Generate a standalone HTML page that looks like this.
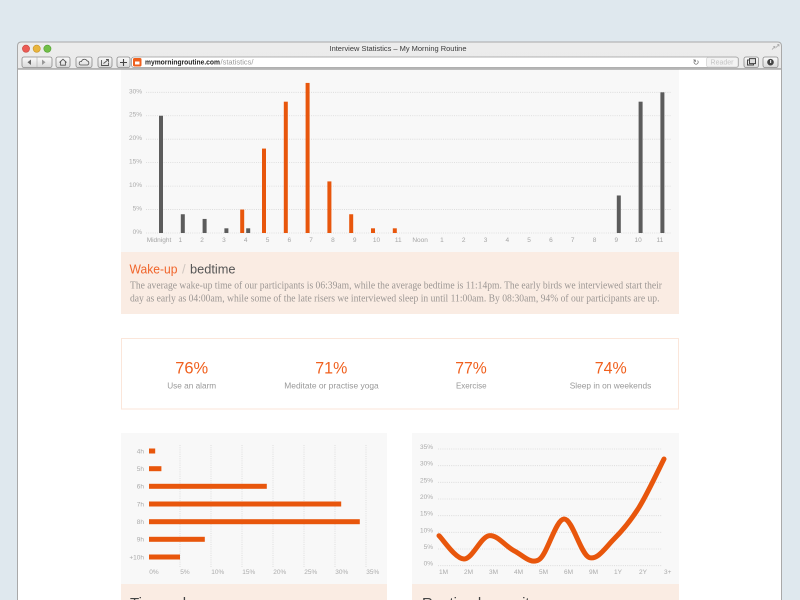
<!DOCTYPE html>
<html><head><meta charset="utf-8"><style>
html,body{margin:0;padding:0;background:#dfe8ee;}
svg{display:block;font-family:"Liberation Sans",sans-serif;}
</style></head><body>
<svg width="800" height="600" viewBox="0 0 800 600" xmlns="http://www.w3.org/2000/svg">
<defs>
<linearGradient id="tb" x1="0" y1="0" x2="0" y2="1"><stop offset="0" stop-color="#ececec"/><stop offset="1" stop-color="#cdcdcd"/></linearGradient>
<linearGradient id="btn" x1="0" y1="0" x2="0" y2="1"><stop offset="0" stop-color="#fbfbfb"/><stop offset="1" stop-color="#d9d9d9"/></linearGradient>
</defs>
<rect width="800" height="600" fill="#dfe8ee"/>
<!-- window -->
<path d="M17.5,604 V46 Q17.5,42 21.5,42 H777.5 Q781.5,42 781.5,46 V604 Z" fill="url(#tb)" stroke="#a9a9a9"/>
<rect x="18" y="69.5" width="763" height="531" fill="#ffffff"/>
<line x1="18" y1="69" x2="781" y2="69" stroke="#808080"/>
<circle cx="26" cy="48.7" r="3.6" fill="#ec5c55" stroke="#c9463f" stroke-width="0.6"/>
<circle cx="36.7" cy="48.7" r="3.6" fill="#e9b53e" stroke="#c79327" stroke-width="0.6"/>
<circle cx="47.4" cy="48.7" r="3.6" fill="#72bf48" stroke="#50a030" stroke-width="0.6"/>
<text x="398" y="51" font-size="7.5" fill="#3a3a3a" text-anchor="middle" textLength="137" lengthAdjust="spacingAndGlyphs">Interview Statistics – My Morning Routine</text>
<g stroke="#8a8a8a" stroke-width="0.8" fill="url(#btn)">
<rect x="22" y="57" width="30" height="10.5" rx="2"/>
<rect x="56" y="57" width="14" height="10.5" rx="2"/>
<rect x="76" y="57" width="16" height="10.5" rx="2"/>
<rect x="98" y="57" width="14" height="10.5" rx="2"/>
<rect x="117" y="57" width="13" height="10.5" rx="2"/>
<rect x="744" y="57" width="14.5" height="10.5" rx="2"/>
<rect x="763" y="57" width="15" height="10.5" rx="2"/>
</g>
<line x1="37" y1="57.5" x2="37" y2="67" stroke="#aaa" stroke-width="0.6"/>
<path d="M31,59.5 L27.5,62.2 L31,65 Z" fill="#666"/>
<path d="M42,59.5 L45.5,62.2 L42,65 Z" fill="#999"/>
<path d="M59.5,62.5 L63,59.2 L66.5,62.5 M60.6,61.8 V65.2 H65.4 V61.8" fill="none" stroke="#555" stroke-width="0.9"/>
<path d="M80.5,65 H87.5 A2.2,2.2 0 0 0 87,60.8 A3,3 0 0 0 81.5,61.5 A1.8,1.8 0 0 0 80.5,65 Z" fill="none" stroke="#555" stroke-width="0.8"/>
<path d="M101.5,60 V65.5 H108.5 V62.5 M103.5,63.5 L108.5,59.5 M106,59.5 H108.5 V62" fill="none" stroke="#555" stroke-width="0.9"/>
<path d="M123.5,59 V66 M120,62.5 H127" stroke="#444" stroke-width="1.1"/>
<rect x="131.5" y="57" width="607" height="10.5" rx="2.5" fill="#fff" stroke="#9a9a9a" stroke-width="0.8"/>
<rect x="133" y="58" width="8.5" height="8.5" rx="1.5" fill="#ee5f1c"/>
<rect x="135" y="61.5" width="4.5" height="3" fill="#fff"/>
<text x="145" y="64.5" font-size="7.5" fill="#222" font-weight="bold" textLength="75" lengthAdjust="spacingAndGlyphs">mymorningroutine.com</text>
<text x="220.5" y="64.5" font-size="7.5" fill="#999" textLength="33" lengthAdjust="spacingAndGlyphs">/statistics/</text>
<text x="696" y="65" font-size="8" fill="#666" text-anchor="middle">↻</text>
<rect x="706.5" y="57.5" width="31.5" height="9.5" rx="2" fill="#f3f3f3" stroke="#c9c9c9" stroke-width="0.6"/>
<text x="722" y="64.6" font-size="7" fill="#c4c4c4" text-anchor="middle">Reader</text>
<rect x="747.5" y="60" width="6" height="5" fill="none" stroke="#444" stroke-width="1"/>
<rect x="749.5" y="58.6" width="6" height="5" fill="#ddd" stroke="#444" stroke-width="1"/>
<circle cx="770.5" cy="62.2" r="3.3" fill="#444"/>
<rect x="770" y="60" width="1.2" height="3" fill="#ddd"/>
<path d="M772,49.5 L775,46.5 M773,46.5 H775 V48.5 M776,47.5 L779,44.5 M777,44.5 H779 V46.5" stroke="#999" stroke-width="0.6" fill="none"/>

<!-- top chart panel -->
<rect x="121" y="69.5" width="558" height="182.5" fill="#f8f8f8"/>
<g stroke="#d8d8d8" stroke-width="0.8" stroke-dasharray="1,1.2">
<line x1="146" y1="233" x2="671" y2="233"/>
<line x1="146" y1="209.55" x2="671" y2="209.55"/>
<line x1="146" y1="186.1" x2="671" y2="186.1"/>
<line x1="146" y1="162.65" x2="671" y2="162.65"/>
<line x1="146" y1="139.2" x2="671" y2="139.2"/>
<line x1="146" y1="115.75" x2="671" y2="115.75"/>
<line x1="146" y1="92.3" x2="671" y2="92.3"/>
</g>
<g font-size="6.5" fill="#aaa" text-anchor="end">
<text x="142" y="234">0%</text>
<text x="142" y="210.5">5%</text>
<text x="142" y="187">10%</text>
<text x="142" y="163.6">15%</text>
<text x="142" y="140.2">20%</text>
<text x="142" y="116.7">25%</text>
<text x="142" y="93.3">30%</text>
</g>
<g fill="#5c5c5c">
<rect x="159" y="115.75" width="4" height="117.25"/>
<rect x="180.8" y="214.24" width="4" height="18.76"/>
<rect x="202.6" y="218.93" width="4" height="14.07"/>
<rect x="224.4" y="228.31" width="4" height="4.69"/>
<rect x="246.2" y="228.31" width="4" height="4.69"/>
<rect x="616.8" y="195.48" width="4" height="37.52"/>
<rect x="638.6" y="101.68" width="4" height="131.32"/>
<rect x="660.4" y="92.3" width="4" height="140.7"/>
</g>
<g fill="#e8560c">
<rect x="240.2" y="209.55" width="4" height="23.45"/>
<rect x="262" y="148.58" width="4" height="84.42"/>
<rect x="283.8" y="101.68" width="4" height="131.32"/>
<rect x="305.6" y="82.92" width="4" height="150.08"/>
<rect x="327.4" y="181.41" width="4" height="51.59"/>
<rect x="349.2" y="214.24" width="4" height="18.76"/>
<rect x="371" y="228.31" width="4" height="4.69"/>
<rect x="392.8" y="228.31" width="4" height="4.69"/>
</g>
<g font-size="6.5" fill="#a5a5a5" text-anchor="middle">
<text x="159" y="241.8">Midnight</text>
<text x="180.3" y="241.8">1</text>
<text x="202.1" y="241.8">2</text>
<text x="223.9" y="241.8">3</text>
<text x="245.7" y="241.8">4</text>
<text x="267.5" y="241.8">5</text>
<text x="289.3" y="241.8">6</text>
<text x="311.1" y="241.8">7</text>
<text x="332.9" y="241.8">8</text>
<text x="354.7" y="241.8">9</text>
<text x="376.5" y="241.8">10</text>
<text x="398.3" y="241.8">11</text>
<text x="420.1" y="241.8">Noon</text>
<text x="441.9" y="241.8">1</text>
<text x="463.7" y="241.8">2</text>
<text x="485.5" y="241.8">3</text>
<text x="507.3" y="241.8">4</text>
<text x="529.1" y="241.8">5</text>
<text x="550.9" y="241.8">6</text>
<text x="572.7" y="241.8">7</text>
<text x="594.5" y="241.8">8</text>
<text x="616.3" y="241.8">9</text>
<text x="638.1" y="241.8">10</text>
<text x="659.9" y="241.8">11</text>
</g>

<!-- text box -->
<rect x="121" y="252" width="558" height="62" fill="#faece3"/>
<text x="129.5" y="273.5" font-size="13" fill="#f0642a" textLength="48" lengthAdjust="spacingAndGlyphs">Wake-up</text>
<text x="182" y="273.5" font-size="13" fill="#cfc6c0">/</text>
<text x="190" y="273.5" font-size="13" fill="#555" textLength="45.5" lengthAdjust="spacingAndGlyphs">bedtime</text>
<g font-family="'Liberation Serif',serif" font-size="10" fill="#9c9794">
<text x="130" y="288.3" textLength="532" lengthAdjust="spacingAndGlyphs">The average wake-up time of our participants is 06:39am, while the average bedtime is 11:14pm. The early birds we interviewed start their</text>
<text x="130" y="301.6" textLength="529.5" lengthAdjust="spacingAndGlyphs">day as early as 04:00am, while some of the late risers we interviewed sleep in until 11:00am. By 08:30am, 94% of our participants are up.</text>
</g>

<!-- stats -->
<rect x="121.5" y="338.5" width="557" height="70.5" fill="#fff" stroke="#fbe6da" stroke-width="1"/>
<g font-size="17" fill="#f0601e" text-anchor="middle">
<text x="191.7" y="373.5" textLength="33" lengthAdjust="spacingAndGlyphs">76%</text>
<text x="331.3" y="373.5" textLength="32" lengthAdjust="spacingAndGlyphs">71%</text>
<text x="471" y="373.5" textLength="31.5" lengthAdjust="spacingAndGlyphs">77%</text>
<text x="610.7" y="373.5" textLength="32" lengthAdjust="spacingAndGlyphs">74%</text>
</g>
<g font-size="8.5" fill="#999" text-anchor="middle">
<text x="191.7" y="388.5" textLength="49" lengthAdjust="spacingAndGlyphs">Use an alarm</text>
<text x="331.5" y="388.5" textLength="94.5" lengthAdjust="spacingAndGlyphs">Meditate or practise yoga</text>
<text x="471.3" y="388.5" textLength="30.7" lengthAdjust="spacingAndGlyphs">Exercise</text>
<text x="610.5" y="388.5" textLength="81.5" lengthAdjust="spacingAndGlyphs">Sleep in on weekends</text>
</g>

<!-- bottom left panel -->
<rect x="121" y="433" width="266" height="151" fill="#f8f8f8"/>
<rect x="121" y="584" width="266" height="16" fill="#faece3"/>
<g stroke="#d8d8d8" stroke-width="0.8" stroke-dasharray="1,1.2">
<line x1="180" y1="445" x2="180" y2="567"/>
<line x1="211" y1="445" x2="211" y2="567"/>
<line x1="242" y1="445" x2="242" y2="567"/>
<line x1="273" y1="445" x2="273" y2="567"/>
<line x1="304" y1="445" x2="304" y2="567"/>
<line x1="335" y1="445" x2="335" y2="567"/>
<line x1="366" y1="445" x2="366" y2="567"/>
</g>
<g fill="#e8560c">
<rect x="149" y="448.5" width="6.2" height="5"/>
<rect x="149" y="466.2" width="12.4" height="5"/>
<rect x="149" y="483.8" width="117.8" height="5"/>
<rect x="149" y="501.5" width="192.2" height="5"/>
<rect x="149" y="519.2" width="210.8" height="5"/>
<rect x="149" y="536.8" width="55.8" height="5"/>
<rect x="149" y="554.5" width="31" height="5"/>
</g>
<g font-size="6.5" fill="#aaa" text-anchor="end">
<text x="144" y="453.3">4h</text>
<text x="144" y="471">5h</text>
<text x="144" y="488.6">6h</text>
<text x="144" y="506.3">7h</text>
<text x="144" y="524">8h</text>
<text x="144" y="541.6">9h</text>
<text x="144" y="559.3">+10h</text>
</g>
<g font-size="6.5" fill="#aaa">
<text x="149.3" y="574">0%</text>
<text x="180.3" y="574">5%</text>
<text x="211.3" y="574">10%</text>
<text x="242.3" y="574">15%</text>
<text x="273.3" y="574">20%</text>
<text x="304.3" y="574">25%</text>
<text x="335.3" y="574">30%</text>
<text x="366.3" y="574">35%</text>
</g>
<text x="130" y="608" font-size="15" fill="#444">Time asleep</text>

<!-- bottom right panel -->
<rect x="412" y="433" width="267" height="151" fill="#f8f8f8"/>
<rect x="412" y="584" width="267" height="16" fill="#faece3"/>
<g stroke="#d8d8d8" stroke-width="0.8" stroke-dasharray="1,1.2">
<line x1="438" y1="449" x2="662" y2="449"/>
<line x1="438" y1="465.7" x2="662" y2="465.7"/>
<line x1="438" y1="482.3" x2="662" y2="482.3"/>
<line x1="438" y1="499" x2="662" y2="499"/>
<line x1="438" y1="515.7" x2="662" y2="515.7"/>
<line x1="438" y1="532.3" x2="662" y2="532.3"/>
<line x1="438" y1="549" x2="662" y2="549"/>
<line x1="438" y1="565.7" x2="662" y2="565.7"/>
</g>
<g font-size="6.5" fill="#aaa" text-anchor="end">
<text x="433" y="449">35%</text>
<text x="433" y="465.7">30%</text>
<text x="433" y="482.3">25%</text>
<text x="433" y="499">20%</text>
<text x="433" y="515.7">15%</text>
<text x="433" y="532.3">10%</text>
<text x="433" y="549">5%</text>
<text x="433" y="565.7">0%</text>
</g>
<g font-size="6.5" fill="#aaa">
<text x="439" y="574">1M</text>
<text x="464" y="574">2M</text>
<text x="489" y="574">3M</text>
<text x="514" y="574">4M</text>
<text x="539" y="574">5M</text>
<text x="564" y="574">6M</text>
<text x="589" y="574">9M</text>
<text x="614" y="574">1Y</text>
<text x="639" y="574">2Y</text>
<text x="664" y="574">3+</text>
</g>
<path d="M439,535.7 C443.17,539.58 455.67,559 464,559 C472.33,559 480.67,537.08 489,535.7 C497.33,534.32 505.67,546.7 514,550.7 C522.33,554.7 530.67,564.98 539,559.7 C547.33,554.42 555.67,519.38 564,519 C572.33,518.62 580.67,554.07 589,557.4 C597.33,560.73 605.67,547.33 614,539 C622.33,530.67 630.67,520.73 639,507.4 C647.33,494.07 659.83,467.07 664,459" fill="none" stroke="#e8560c" stroke-width="5" stroke-linecap="round" stroke-linejoin="round"/>
<text x="422" y="608" font-size="15" fill="#444">Routine longevity</text>
</svg>
</body></html>
